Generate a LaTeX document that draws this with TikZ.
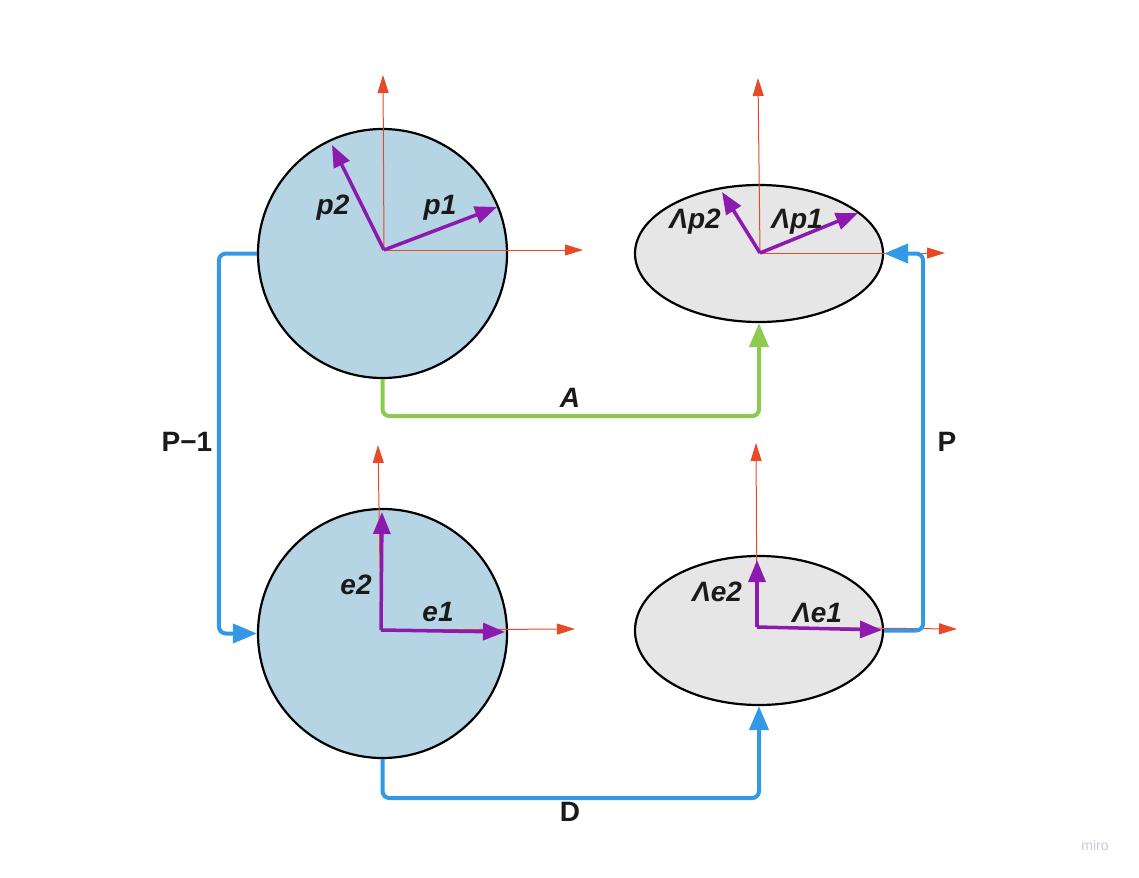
\documentclass[tikz,border=0pt]{standalone}
\usepackage{fontspec}
\setmainfont{Liberation Sans}
\usetikzlibrary{arrows.meta,shapes.geometric}
\definecolor{circfill}{HTML}{B5D5E4}
\definecolor{ellfill}{HTML}{E6E6E6}
\definecolor{axisred}{HTML}{E84A27}
\definecolor{vecpurple}{HTML}{8C1AAE}
\definecolor{linkblue}{HTML}{3399E6}
\definecolor{linkgreen}{HTML}{8CCB50}
\definecolor{labelblack}{HTML}{1A1A1A}
\definecolor{wmgray}{HTML}{C8CCD2}
\begin{document}
\begin{tikzpicture}[x=1pt,y=-1pt,
 disc/.style={circle, draw=black, line width=2.2pt, fill=circfill, minimum size=249pt, inner sep=0pt},
 oval/.style={ellipse, draw=black, line width=2.2pt, fill=ellfill, minimum width=248pt, inner sep=0pt},
 axis/.style={draw=axisred, line width=1pt, -{Triangle[length=18pt,width=11pt]}},
 vec/.style={draw=vecpurple, line width=3.5pt, -{Triangle[length=22pt,width=17pt]}},
 link/.style={draw=linkblue, line width=4pt, rounded corners=7pt, -{Triangle[length=24pt,width=19pt]}},
 glink/.style={link, draw=linkgreen},
 lbl/.style={font=\fontsize{28}{30}\selectfont\bfseries\itshape, text=labelblack, inner sep=0pt},
 ulbl/.style={font=\fontsize{28}{30}\selectfont\bfseries, text=labelblack, inner sep=0pt},
]
\useasboundingbox (0,0) rectangle (1139,877);

% shapes
\node[disc] (pc) at (382.5,253.5) {};
\node[disc] (ec) at (382.5,633.5) {};
\node[oval, minimum height=137pt] (pe) at (759,253.5) {};
\node[oval, minimum height=149pt] (ee) at (759,630.5) {};

% origins and vector tips
\coordinate (po) at (384,250);
\coordinate (poy) at (383,75);
\coordinate (pox) at (583,250);
\coordinate (p1) at (497,207);
\coordinate (p2) at (332,145);

\coordinate (eo) at (381,630);
\coordinate (eoy) at (378,445);
\coordinate (eox) at (575,629);
\coordinate (e1) at (505,632);
\coordinate (e2) at (382,512);

\coordinate (lpo) at (760,253);
\coordinate (lpoy) at (758,78);
\coordinate (lpox) at (945,253);
\coordinate (lp1) at (858,213);
\coordinate (lp2) at (722,192);

\coordinate (leo) at (757,627);
\coordinate (leoy) at (756,443);
\coordinate (leox) at (957,629);
\coordinate (le1) at (882,630);
\coordinate (le2) at (757,560);

% red axes
\draw[axis] (po) -- (poy);
\draw[axis] (po) -- (pox);
\draw[axis] (eo) -- (eoy);
\draw[axis] (eo) -- (eox);
\draw[axis] (lpo) -- (lpoy);
\draw[axis] (lpo) -- (lpox);
\draw[axis] (leo) -- (leoy);
\draw[axis] (leo) -- (leox);

% purple vectors
\draw[vec] (po) -- (p1);
\draw[vec] (po) -- (p2);
\draw[vec] (eo) -- (e1);
\draw[vec] (eo) -- (e2);
\draw[vec] (lpo) -- (lp1);
\draw[vec] (lpo) -- (lp2);
\draw[vec] (leo) -- (le1);
\draw[vec] (leo) -- (le2);

% connectors
\draw[link] (pc.west) -- ++(-38,0) |- (ec.west);
\draw[glink] (pc.south) -- ++(0,37) -| (pe.south);
\draw[link] (ec.south) -- ++(0,39) -| (ee.south);
\draw[link] (ee.east) -- ++(39,0) |- (pe.east);

% labels
\node[lbl] (lp2t) at (333,208) {p2};
\node[lbl] (lp1t) at (440,208) {p1};
\node[lbl] (llp2t) at (695,222) {Λp2};
\node[lbl] (llp1t) at (797,222) {Λp1};
\node[lbl] (le2t) at (356,585) {e2};
\node[lbl] (le1t) at (438,612) {e1};
\node[lbl] (lle2t) at (717,592) {Λe2};
\node[lbl] (lle1t) at (817,613) {Λe1};
\node[lbl] (lA) at (570,398) {A};
\node[ulbl] (lD) at (570,812) {D};
\node[ulbl] (lPinv) at (187,442) {P−1};
\node[ulbl] (lP) at (947,442) {P};
\node[font=\fontsize{14}{16}\selectfont, text=wmgray, inner sep=0pt] (wm) at (1095,845) {miro};
\end{tikzpicture}
\end{document}
